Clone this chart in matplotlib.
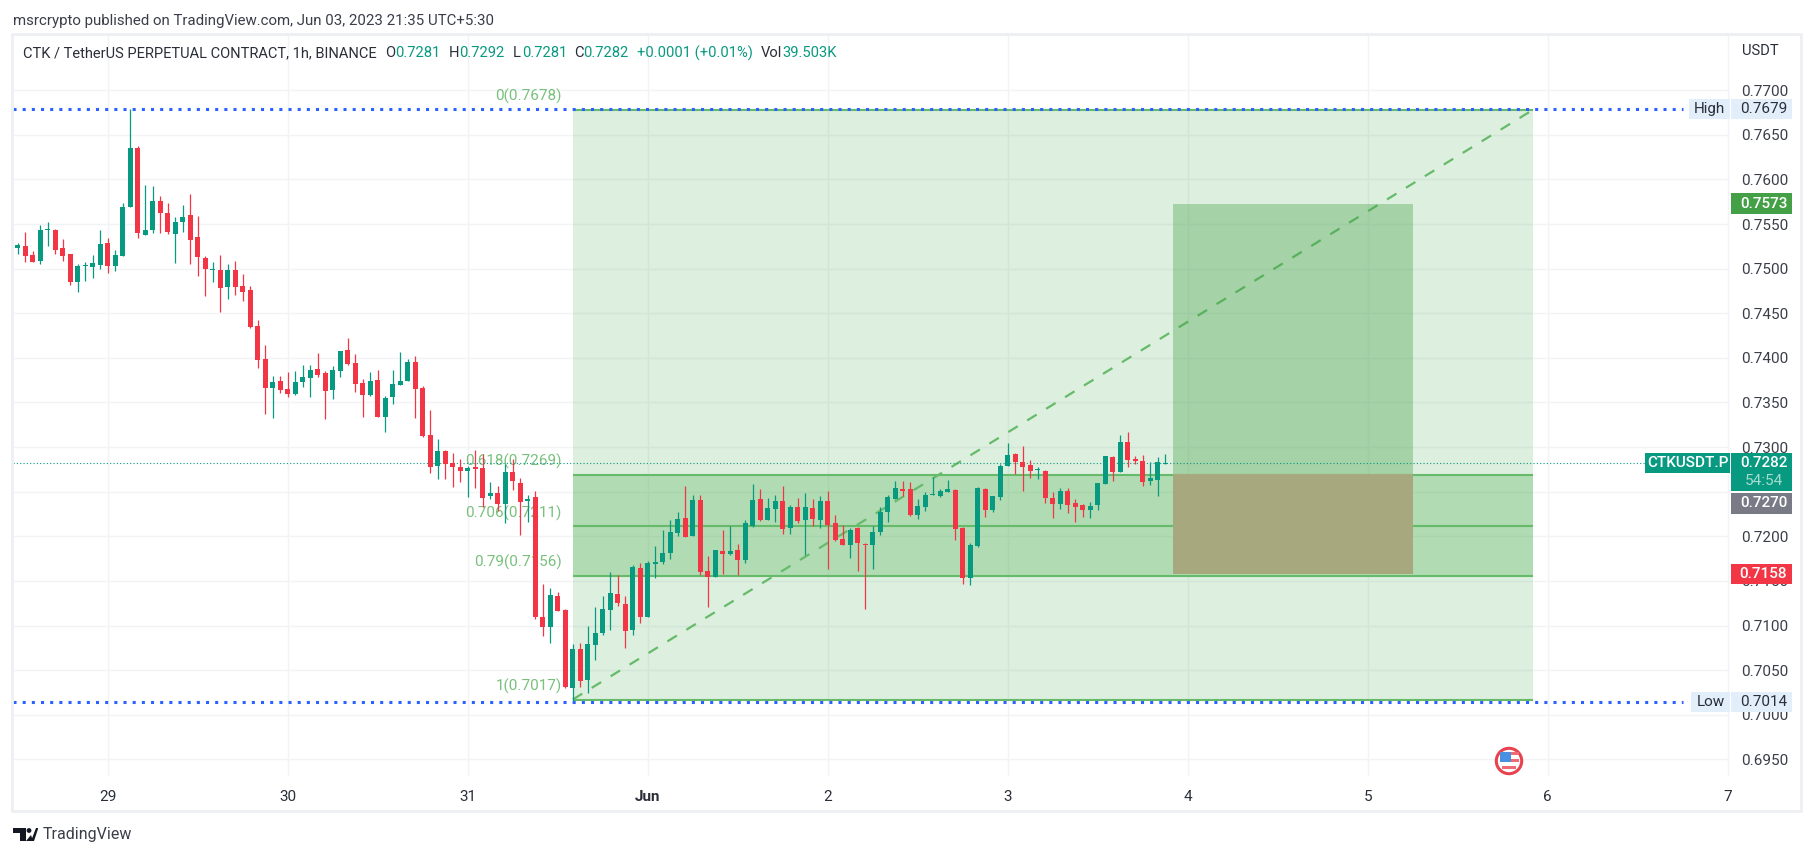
import matplotlib
matplotlib.use("Agg")
import matplotlib.pyplot as plt
from matplotlib.patches import Circle, Polygon, Rectangle

plt.rcParams["font.family"] = ["Roboto", "DejaVu Sans"]

# Hourly candles, first one is May 28 12:00
opens = [
    .7523, .7525, .7515, .7509, .7543, .7543, .7523, .7516, .7485, .7503, .7502, .7504, .7529, .7503,
    .7514, .7569, .7635, .7538, .7543, .7576, .7562, .7539, .7552, .7560, .7536, .7512, .7499, .7499,
    .7479, .7499, .7481, .7476, .7436, .7399, .7366, .7374, .7365, .7360, .7373, .7378, .7388, .7383,
    .7364, .7385, .7409, .7394, .7372, .7358, .7375, .7334, .7356, .7370, .7374, .7395, .7366, .7314,
    .7279, .7296, .7282, .7278, .7273, .7278, .7277, .7245, .7248, .7236, .7272, .7260, .7240, .7244,
    .7110, .7098, .7133, .7117, .7030, .7074, .7039, .7078, .7092, .7117, .7135, .7124, .7095, .7164,
    .7110, .7169, .7171, .7181, .7204, .7220, .7200, .7241, .7161, .7154, .7183, .7180, .7185, .7173,
    .7212, .7242, .7218, .7231, .7240, .7209, .7233, .7218, .7232, .7218, .7240, .7215, .7197, .7190,
    .7209, .7191, .7190, .7205, .7227, .7242, .7253, .7253, .7224, .7233, .7246, .7245, .7250, .7252,
    .7209, .7153, .7189, .7253, .7229, .7244, .7279, .7292, .7283, .7280, .7274, .7273, .7243, .7236,
    .7251, .7237, .7235, .7229, .7235, .7259, .7289, .7272, .7306, .7287, .7284, .7262, .7263, .7281,
]
highs = [
    .7529, .7541, .7520, .7549, .7552, .7544, .7533, .7517, .7505, .7508, .7515, .7543, .7534, .7521,
    .7574, .7679, .7638, .7594, .7593, .7582, .7574, .7558, .7571, .7584, .7559, .7514, .7508, .7515,
    .7505, .7509, .7494, .7481, .7443, .7415, .7380, .7380, .7384, .7385, .7392, .7392, .7406, .7385,
    .7391, .7408, .7422, .7404, .7376, .7384, .7386, .7357, .7386, .7407, .7399, .7402, .7369, .7342,
    .7309, .7297, .7293, .7287, .7279, .7297, .7292, .7261, .7256, .7281, .7287, .7265, .7246, .7251,
    .7147, .7142, .7138, .7119, .7079, .7080, .7099, .7121, .7133, .7160, .7157, .7133, .7168, .7170,
    .7172, .7189, .7207, .7218, .7227, .7256, .7246, .7246, .7178, .7185, .7207, .7212, .7191, .7218,
    .7259, .7253, .7243, .7246, .7256, .7235, .7243, .7249, .7242, .7245, .7251, .7224, .7213, .7209,
    .7210, .7192, .7212, .7233, .7246, .7262, .7262, .7261, .7242, .7250, .7267, .7253, .7263, .7253,
    .7210, .7192, .7255, .7254, .7245, .7281, .7305, .7293, .7301, .7286, .7278, .7274, .7250, .7254,
    .7254, .7242, .7236, .7238, .7260, .7290, .7290, .7314, .7317, .7290, .7291, .7283, .7289, .7292,
]
lows = [
    .7516, .7507, .7507, .7505, .7525, .7517, .7509, .7482, .7474, .7486, .7490, .7500, .7495, .7497,
    .7514, .7569, .7534, .7538, .7540, .7540, .7539, .7506, .7541, .7505, .7492, .7469, .7485, .7451,
    .7466, .7470, .7464, .7433, .7389, .7337, .7333, .7361, .7356, .7358, .7367, .7356, .7379, .7332,
    .7354, .7379, .7392, .7362, .7334, .7357, .7334, .7317, .7348, .7370, .7374, .7333, .7311, .7271,
    .7264, .7264, .7255, .7261, .7244, .7254, .7233, .7242, .7228, .7215, .7252, .7201, .7216, .7107,
    .7088, .7080, .7116, .7030, .7014, .7031, .7024, .7061, .7089, .7095, .7122, .7075, .7089, .7103,
    .7109, .7153, .7169, .7175, .7200, .7199, .7200, .7157, .7121, .7154, .7158, .7179, .7157, .7170,
    .7210, .7217, .7218, .7216, .7203, .7203, .7215, .7179, .7211, .7209, .7163, .7195, .7190, .7176,
    .7161, .7118, .7163, .7201, .7216, .7242, .7245, .7223, .7219, .7228, .7246, .7244, .7250, .7196,
    .7147, .7145, .7188, .7222, .7227, .7241, .7279, .7270, .7251, .7265, .7264, .7237, .7220, .7231,
    .7226, .7216, .7222, .7220, .7229, .7259, .7262, .7272, .7278, .7281, .7256, .7257, .7245, .7281,
]
closes = [
    .7527, .7514, .7508, .7543, .7544, .7521, .7514, .7485, .7503, .7503, .7506, .7528, .7503, .7515,
    .7569, .7635, .7540, .7543, .7576, .7563, .7541, .7552, .7558, .7532, .7513, .7500, .7500, .7478,
    .7498, .7479, .7474, .7435, .7398, .7366, .7373, .7364, .7360, .7373, .7379, .7386, .7381, .7363,
    .7386, .7408, .7393, .7371, .7358, .7374, .7334, .7355, .7371, .7374, .7395, .7365, .7312, .7278,
    .7296, .7281, .7278, .7273, .7277, .7275, .7243, .7248, .7236, .7272, .7262, .7238, .7242, .7110,
    .7098, .7134, .7116, .7031, .7074, .7038, .7079, .7092, .7119, .7136, .7125, .7094, .7166, .7110,
    .7170, .7171, .7181, .7205, .7219, .7199, .7241, .7160, .7154, .7185, .7180, .7183, .7173, .7215,
    .7241, .7218, .7232, .7240, .7208, .7233, .7217, .7233, .7219, .7240, .7213, .7196, .7190, .7207,
    .7192, .7190, .7205, .7227, .7244, .7254, .7251, .7224, .7234, .7246, .7247, .7251, .7253, .7208,
    .7153, .7190, .7254, .7229, .7245, .7279, .7291, .7283, .7278, .7273, .7275, .7243, .7236, .7251,
    .7235, .7233, .7229, .7234, .7260, .7290, .7272, .7306, .7286, .7284, .7261, .7265, .7283, .7282,
]

day_labels = ["29", "30", "31", "Jun", "2", "3", "4", "5", "6", "7"]
price_ticks = [.77, .765, .76, .755, .75, .745, .74, .735, .73, .725, .72, .715, .71, .705, .70, .695]

fib_levels = [.7678, .7269, .7211, .7156, .7017]
fib_labels = ["0(0.7678)", "0.618(0.7269)", "0.706(0.7211)", "0.79(0.7156)", "1(0.7017)"]
fib_start, fib_end = 62, 190

box_start, box_end = 142, 174
box_target, box_entry, box_stop = .7573, .7270, .7158

high_price, low_price, last_price = .7679, .7014, .7282

GREEN = "#089981"
RED = "#f23645"
BLUE = "#2962ff"
FIB = "#66bb6a"
TEXT = "#2a2e39"

fig = plt.figure(figsize=(18.14, 8.56), dpi=100)
ax = fig.add_axes([13 / 1814, 80 / 856, 1717 / 1814, 742 / 856])
ax.set_xlim(-12.63, 216.3)
ax.set_ylim(.77 - (776 - 90.3) / 8920, .77 + (90.3 - 34) / 8920)
ax.set_axisbelow(True)
for s in ax.spines.values():
    s.set_visible(False)

# Axes ticks and grid
ax.set_xticks(range(0, 24 * len(day_labels), 24))
ax.set_xticklabels(day_labels, fontsize=11, color=TEXT)
ax.get_xticklabels()[3].set_fontweight("bold")
ax.yaxis.tick_right()
ax.set_yticks(price_ticks)
# the 0.7250 label sits fully behind the price tags in the original
ax.set_yticklabels(["" if p == .725 else f"{p:.4f}" for p in price_ticks], fontsize=11, color="#3a3e49")
ax.tick_params(length=0)
ax.tick_params(axis="x", pad=10)
ax.tick_params(axis="y", pad=8)
ax.grid(color="#f2f3f7", lw=1)


def px(x):
    # pane pixel column to axes fraction
    return (x - 13) / 1717


# Fib retracement
ax.fill_between([fib_start, fib_end], fib_levels[-1], fib_levels[0], color="#4caf50", alpha=.19, lw=0, zorder=1)
ax.fill_between([fib_start, fib_end], fib_levels[3], fib_levels[1], color="#4caf50", alpha=.3, lw=0, zorder=1)
ax.hlines(fib_levels, fib_start, fib_end, color=FIB, lw=1.5, zorder=1.5)
ax.plot([fib_start, fib_end], [fib_levels[-1], fib_levels[0]], color=FIB, lw=1.6, dashes=(5, 5), zorder=1.5)
for level, label in zip(fib_levels, fib_labels):
    ax.annotate(label, (fib_start, level), xytext=(-8, 9.5), textcoords="offset points", ha="right", va="center",
                fontsize=11, color="#78c07c", zorder=1.6)

# Long position box
ax.fill_between([box_start, box_end], box_entry, box_target, color="#43a047", alpha=.36, lw=0, zorder=1.7)
ax.fill_between([box_start, box_end], box_stop, box_entry, color="#a8a87f", lw=0, zorder=1.7)

# Last price line runs up to the symbol tag
ax.plot([-12.63, 205], [last_price, last_price], color=GREEN, lw=.8, dashes=(1, 2), zorder=2)

# Candles
for i, (o, h, l, c) in enumerate(zip(opens, highs, lows, closes)):
    hour = i - 12
    col = GREEN if c >= o else RED
    ax.vlines(hour, l, h, color=col, lw=.9, zorder=3)
    ax.bar(hour, max(abs(c - o), .00012), bottom=min(o, c), width=.66, color=col, lw=0, zorder=3)

ax.plot([-12.63, 210.1], [high_price, high_price], color=BLUE, lw=2.2, dashes=(1, 2), zorder=4)
ax.plot([-12.63, 210.1], [low_price, low_price], color=BLUE, lw=2.2, dashes=(1, 2), zorder=4)

tr = ax.get_yaxis_transform()


def tag(price, text, color, x0=1731, x1=1792, text_color="white", shift=0, weight="medium"):
    h = 20.5 / 8920
    y = price + shift
    ax.add_patch(Rectangle((px(x0), y - h / 2), px(x1) - px(x0), h, transform=tr, color=color, lw=0,
                           clip_on=False, zorder=6))
    cx = (x0 + x1) / 2 + (2 if x0 == 1731 else 0)
    ax.text(px(cx), y, text, transform=tr, ha="center", va="center", fontsize=11, color=text_color,
            fontweight=weight, clip_on=False, zorder=7)


tag(box_target, "0.7573", "#43a047")
tag(box_stop, "0.7158", RED)
tag(box_entry, "0.7270", "#787b86", shift=-29.4 / 8920)
tag(last_price, "54:54", GREEN, text_color="#a6dbd0", weight="normal", shift=-18 / 8920)
tag(last_price, "0.7282", GREEN)
tag(last_price, "CTKUSDT.P", GREEN, x0=1645, x1=1730)
tag(high_price, "0.7679", "#e3eefb", text_color=TEXT, weight="normal")
tag(high_price, "High", "#e3eefb", x0=1689, x1=1730, text_color=TEXT, weight="normal")
tag(low_price, "0.7014", "#e3eefb", text_color=TEXT, weight="normal")
tag(low_price, "Low", "#e3eefb", x0=1691, x1=1730, text_color=TEXT, weight="normal")

# Overlay in pixel coordinates for the frame, header and logos
ov = fig.add_axes([0, 0, 1, 1], zorder=10)
ov.set_xlim(0, 1814)
ov.set_ylim(856, 0)
ov.axis("off")
ov.patch.set_alpha(0)

ov.add_patch(Rectangle((12, 34), 1789, 777, fill=False, ec="#eeeff3", lw=2))
ov.text(13, 20.5, "msrcrypto published on TradingView.com, Jun 03, 2023 21:35 UTC+5:30", fontsize=10.8,
        color="#3a3e49", va="center")
ov.text(23, 53, "CTK / TetherUS PERPETUAL CONTRACT, 1h, BINANCE", fontsize=10.5, color=TEXT, va="center")
ov.text(1760, 51, "USDT", fontsize=10.6, color=TEXT, va="center", ha="center")

legend_items = [
    (385, "O", TEXT), (395, "0.7281", GREEN), (449, "H", TEXT), (459, "0.7292", GREEN),
    (513, "L", TEXT), (522, "0.7281", GREEN), (574, "C", TEXT), (583, "0.7282", GREEN),
    (637, "+0.0001 (+0.01%)", GREEN), (761, "Vol", TEXT), (782, "39.503K", GREEN),
]
for x, s, col in legend_items:
    ov.text(x, 53, s, fontsize=10.6, color=col, va="center")

# TradingView logo
ov.add_patch(Polygon([(13, 828), (26, 828), (26, 841), (20, 841), (20, 833), (13, 833)], color="#131722", lw=0))
ov.add_patch(Circle((29, 830.5), 2.4, color="#131722", lw=0))
ov.add_patch(Polygon([(31, 841), (36, 828), (38, 828), (38, 829), (34, 841)], color="#131722", lw=0))
ov.add_patch(Polygon([(26, 841), (31, 835), (33, 841)], color="#131722", lw=0))
ov.text(43, 835, "TradingView", fontsize=11.5, color="#3a3e49", va="center")

# US event flag
ov.add_patch(Circle((1509, 761), 12.7, fc="white", ec="#e9424f", lw=2.2))
ov.add_patch(Rectangle((1500, 752), 19, 3, color="#ef6a72", lw=0))
ov.add_patch(Rectangle((1500, 759), 19, 3, color="#ef6a72", lw=0))
ov.add_patch(Rectangle((1502, 766), 14, 3, color="#ef6a72", lw=0))
ov.add_patch(Rectangle((1500, 752), 11, 10, color="#4a90e2", lw=0))

fig.savefig("out.png", dpi=100, facecolor="white")
